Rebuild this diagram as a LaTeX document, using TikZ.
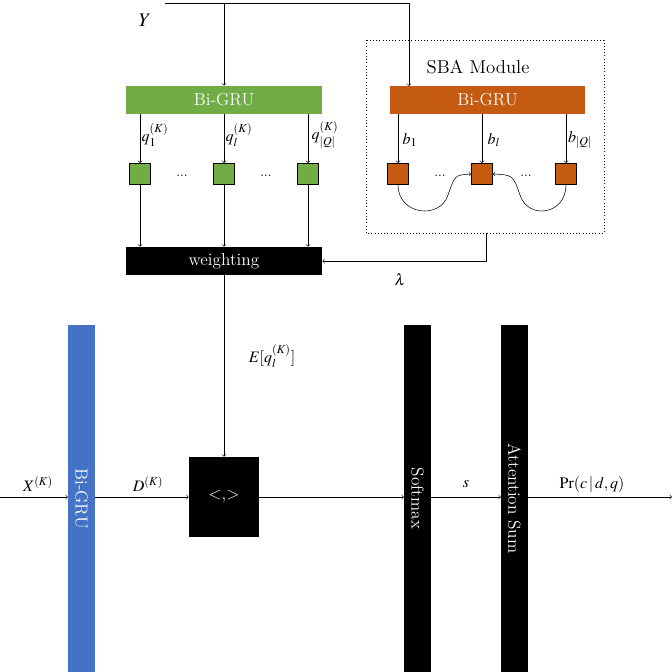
\documentclass[tikz,border=0pt]{standalone}
\usepackage{fontspec}
\setmainfont{Carlito}
\usepackage{mathptmx}
\begin{document}
\begin{tikzpicture}[x=0.75pt,y=-0.75pt,
 ar/.style={->,>=to,thin},
 bar/.style={draw=none,minimum height=21pt,inner sep=0pt,text=white,font=\fontsize{13}{15}\selectfont},
 sq/.style={draw=black,minimum size=16pt,inner sep=0pt},
 vbar/.style={fill=black,inner sep=0pt}]
\useasboundingbox (0,0) rectangle (672,672);
\definecolor{gr}{RGB}{112,173,71}
\definecolor{org}{RGB}{197,90,17}
\definecolor{bl}{RGB}{68,114,196}
\node (Y) at (145,20) {\Large$Y$};
\coordinate (ys) at (165,3);
\coordinate (yr) at (409,3);
\draw[dotted] (366,40) rectangle (604,233);
\node[font=\itshape\fontsize{14}{16}\selectfont] (sba) at (478,67) {SBA Module};
\node[bar,fill=gr,minimum width=147pt] (g) at (224,100) {Bi-GRU};
\node[bar,fill=org,minimum width=146pt] (o) at (487.5,100) {Bi-GRU};
\draw (ys) -- (yr);
\draw[ar] (224,3) -- (g.north);
\draw[ar] (yr) -- (409,86);
\foreach \x/\n in {140/1,224/2,308/3}{
 \node[sq,fill=gr] (g\n) at (\x,174) {};
 \draw[ar] (\x,114) -- (g\n.north);
}
\foreach \x/\n in {398/1,482/2,566/3}{
 \node[sq,fill=org] (o\n) at (\x,174) {};
 \draw[ar] (\x,114) -- (o\n.north);
}
\node at (155,135) {\large$q_1^{(K)}$};
\node at (239,135) {\large$q_l^{(K)}$};
\node at (325,135) {\large$q_{|Q|}^{(K)}$};
\node at (410,140) {\large$b_1$};
\node at (494,140) {\large$b_l$};
\node at (580,140) {\large$b_{|Q|}$};
\foreach \x in {182,266,440,526}{\node at (\x,176) {\textbf{...}};}
\draw[ar] (o1.south) .. controls (398,215) and (440,220) .. (448,195) .. controls (455,175) .. (o2.west);
\draw[ar] (o3.south) .. controls (566,215) and (528,220) .. (520,195) .. controls (513,175) .. (o2.east);
\node[bar,fill=black,minimum width=147pt] (w) at (224,261) {weighting};
\foreach \n in {1,2,3}{\draw[ar] (g\n.south) -- (g\n.south|-w.north);}
\draw[ar] (486,233) -- (486,261) -- (w.east);
\node at (400,280) {\large$\lambda$};
\node[vbar,minimum width=52.5pt,minimum height=60pt,text=white,font=\fontsize{13}{15}\selectfont] (dot) at (224,497) {<,>};
\draw[ar] (w.south) -- (dot.north);
\node at (272,356) {\large$E[q_l^{(K)}]$};
\node[fill=bl,minimum width=20pt,minimum height=260pt,inner sep=0pt] (b) at (81.5,498.5) {};
\node[rotate=-90,text=white,font=\fontsize{13}{15}\selectfont] at (b) {Bi-GRU};
\node[vbar,minimum width=20pt,minimum height=260pt] (sm) at (417.5,498.5) {};
\node[rotate=-90,text=white,font=\fontsize{13}{15}\selectfont] at (sm) {Softmax};
\node[vbar,minimum width=20pt,minimum height=260pt] (as) at (514.5,498.5) {};
\node[rotate=-90,text=white,font=\fontsize{13}{15}\selectfont] at (as) {Attention Sum};
\coordinate (in) at (0,497);
\coordinate (out) at (672,497);
\draw[ar] (in) -- (b.west|-in);
\draw[ar] (b.east|-in) -- (dot.west);
\draw[ar] (dot.east) -- (sm.west|-in);
\draw[ar] (sm.east|-in) -- (as.west|-in);
\draw[ar] (as.east|-in) -- (out);
\node at (38,484) {\large$X^{(K)}$};
\node at (148,484) {\large$D^{(K)}$};
\node at (466,484) {\large$s$};
\node at (592,484) {\large$\Pr(c\,|\,d,q)$};
\end{tikzpicture}
\end{document}
